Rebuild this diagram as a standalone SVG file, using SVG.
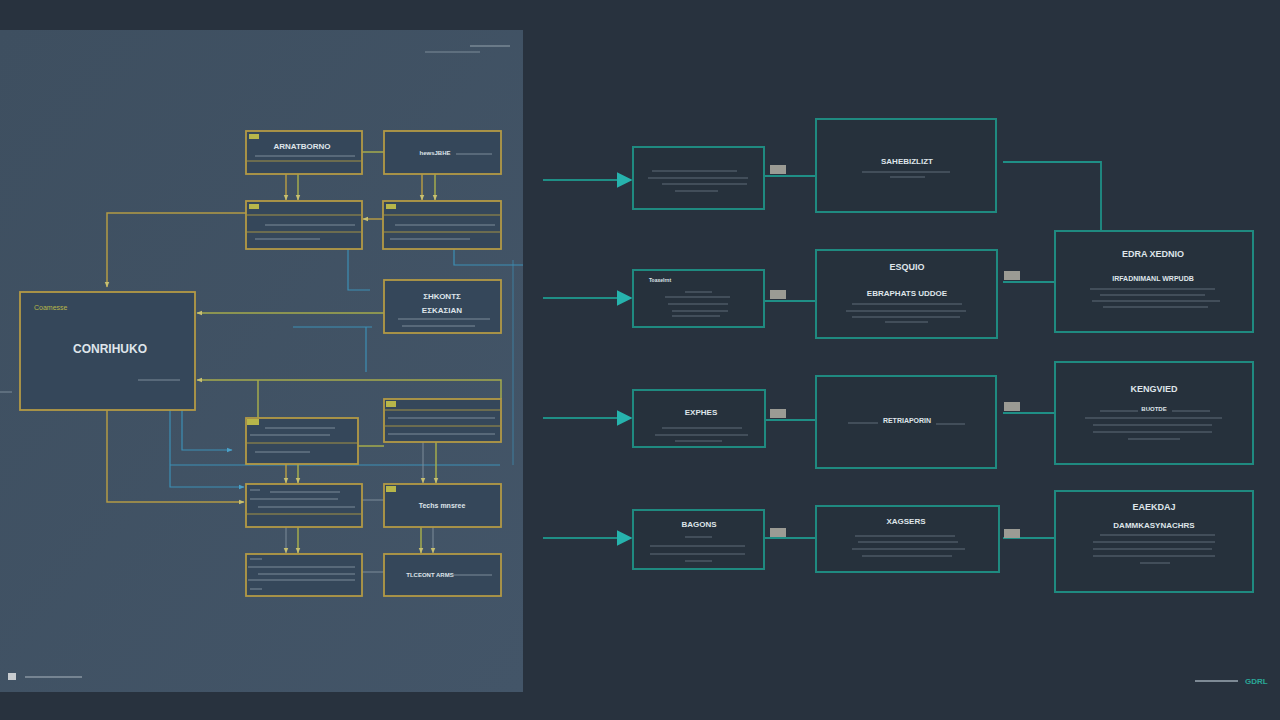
<svg xmlns="http://www.w3.org/2000/svg" width="1280" height="720" viewBox="0 0 1280 720">
<defs>
<linearGradient id="panel" x1="0" y1="0" x2="1" y2="1">
<stop offset="0" stop-color="#3e4f60"/>
<stop offset="1" stop-color="#435568"/>
</linearGradient>
<marker id="tri" viewBox="0 0 10 10" refX="9" refY="5" markerWidth="16" markerHeight="16" markerUnits="userSpaceOnUse" orient="auto">
<path d="M0,0 L10,5 L0,10 z" fill="#27b3ad"/>
</marker>
<marker id="sm" viewBox="0 0 10 10" refX="9" refY="5" markerWidth="6" markerHeight="6" markerUnits="userSpaceOnUse" orient="auto">
<path d="M0,1 L10,5 L0,9 z" fill="#c8c070"/>
</marker>
<marker id="smb" viewBox="0 0 10 10" refX="9" refY="5" markerWidth="6" markerHeight="6" markerUnits="userSpaceOnUse" orient="auto">
<path d="M0,1 L10,5 L0,9 z" fill="#4aa0c8"/>
</marker>
</defs>
<style>
.ln{fill:none;stroke:#b39a45;stroke-width:1.5}
.lg{fill:none;stroke:#a5ab4c;stroke-width:1.5}
.lb{fill:none;stroke:#3d8fb5;stroke-width:1.2}
.ob{fill:#35475a;stroke:#b39a45;stroke-width:1.8}
.sep{stroke:#a39244;stroke-width:1}
.fl{stroke:#7d8c99;stroke-width:1}
.tb{fill:#26313c;stroke:#1f8a80;stroke-width:2}
.tl{stroke:#1f8f86;stroke-width:1.8;fill:none}
.tag{fill:#9b9b94}
.fr{stroke:#5e6c78;stroke-width:1}
.t{font-family:"Liberation Sans",Arial,sans-serif;fill:#dfe5ea;font-weight:bold;text-anchor:middle}
.ty{font-family:"Liberation Sans",Arial,sans-serif;fill:#b7b64a;font-size:7px}
</style>
<rect width="1280" height="720" fill="#28323e"/>
<rect x="0" y="30" width="523" height="662" fill="url(#panel)"/>
<line x1="425" y1="52" x2="480" y2="52" class="fl"/>
<line x1="470" y1="46" x2="510" y2="46" stroke="#6a7a88" stroke-width="2"/>

<g id="connectors">
<!-- left side -->
<line x1="362" y1="152" x2="384" y2="152" class="lg"/>
<line x1="286" y1="174" x2="286" y2="200" class="ln" marker-end="url(#sm)"/>
<line x1="298" y1="174" x2="298" y2="200" class="lg" marker-end="url(#sm)"/>
<line x1="422" y1="174" x2="422" y2="200" class="ln" marker-end="url(#sm)"/>
<line x1="435" y1="174" x2="435" y2="200" class="lg" marker-end="url(#sm)"/>
<line x1="383" y1="219" x2="363" y2="219" class="ln" marker-end="url(#sm)"/>
<path d="M246,213 H107 V287" class="ln" marker-end="url(#sm)"/>
<line x1="384" y1="313" x2="197" y2="313" class="lg" marker-end="url(#sm)"/>
<path d="M501,399 V380 H197" class="lg" marker-end="url(#sm)"/>
<line x1="258" y1="380" x2="258" y2="418" class="lg"/>
<path d="M107,410 V502 H244" class="ln" marker-end="url(#sm)"/>
<path d="M348,249 V290 H370" class="lb"/>
<path d="M454,249 V265 H523" class="lb"/>
<path d="M293,327 H372" class="lb"/>
<line x1="366" y1="327" x2="366" y2="372" class="lb"/>
<path d="M182,410 V450 H232" class="lb" marker-end="url(#smb)"/>
<path d="M170,410 V487 H244" class="lb" marker-end="url(#smb)"/>
<line x1="170" y1="465" x2="500" y2="465" class="lb"/>
<line x1="513" y1="260" x2="513" y2="465" class="lb" opacity="0.6"/>
<line x1="358" y1="446" x2="384" y2="446" class="lg"/>
<line x1="286" y1="464" x2="286" y2="483" class="ln" marker-end="url(#sm)"/>
<line x1="298" y1="464" x2="298" y2="483" class="lg" marker-end="url(#sm)"/>
<line x1="423" y1="442" x2="423" y2="483" class="fl" marker-end="url(#sm)"/>
<line x1="436" y1="442" x2="436" y2="483" class="lg" marker-end="url(#sm)"/>
<line x1="362" y1="500" x2="384" y2="500" class="fl"/>
<line x1="286" y1="527" x2="286" y2="553" class="fl" marker-end="url(#sm)"/>
<line x1="298" y1="527" x2="298" y2="553" class="lg" marker-end="url(#sm)"/>
<line x1="421" y1="527" x2="421" y2="553" class="lg" marker-end="url(#sm)"/>
<line x1="433" y1="527" x2="433" y2="553" class="fl" marker-end="url(#sm)"/>
<line x1="362" y1="572" x2="384" y2="572" class="fl"/>
<line x1="0" y1="392" x2="12" y2="392" class="fl"/>
<!-- right side -->
<line x1="543" y1="180" x2="631" y2="180" class="tl" marker-end="url(#tri)"/>
<line x1="543" y1="298" x2="631" y2="298" class="tl" marker-end="url(#tri)"/>
<line x1="543" y1="418" x2="631" y2="418" class="tl" marker-end="url(#tri)"/>
<line x1="543" y1="538" x2="631" y2="538" class="tl" marker-end="url(#tri)"/>
<line x1="764" y1="176" x2="816" y2="176" class="tl" stroke-width="1.2"/>
<line x1="764" y1="301" x2="816" y2="301" class="tl" stroke-width="1.2"/>
<line x1="765" y1="420" x2="816" y2="420" class="tl" stroke-width="1.2"/>
<line x1="764" y1="538" x2="816" y2="538" class="tl" stroke-width="1.2"/>
<path d="M1003,162 H1101 V231" class="tl" stroke-width="1.5"/>
<line x1="1003" y1="282" x2="1055" y2="282" class="tl" stroke-width="1.2"/>
<line x1="1003" y1="413" x2="1055" y2="413" class="tl" stroke-width="1.2"/>
<line x1="1003" y1="538" x2="1055" y2="538" class="tl" stroke-width="1.2"/>
<rect x="770" y="165" width="16" height="9" class="tag"/>
<rect x="770" y="290" width="16" height="9" class="tag"/>
<rect x="770" y="409" width="16" height="9" class="tag"/>
<rect x="770" y="528" width="16" height="9" class="tag"/>
<rect x="1004" y="271" width="16" height="9" class="tag"/>
<rect x="1004" y="402" width="16" height="9" class="tag"/>
<rect x="1004" y="529" width="16" height="9" class="tag"/>
</g>

<g id="nA"><rect x="246" y="131" width="116" height="43" class="ob"/><rect x="249" y="134" width="10" height="5" fill="#b7b64a"/><text x="302" y="149" class="t" font-size="8">ARNATBORNO</text><line x1="255" y1="156" x2="355" y2="156" class="fl"/><line x1="246" y1="161" x2="362" y2="161" class="sep"/></g>
<g id="nB"><rect x="384" y="131" width="117" height="43" class="ob"/><text x="435" y="155" class="t" font-size="6">hewsJBHE</text><line x1="456" y1="154" x2="492" y2="154" class="fl"/></g>
<g id="nC"><rect x="246" y="201" width="116" height="48" class="ob"/><rect x="249" y="204" width="10" height="5" fill="#b7b64a"/><line x1="246" y1="215" x2="362" y2="215" class="sep"/><line x1="265" y1="225" x2="355" y2="225" class="fl"/><line x1="246" y1="232" x2="362" y2="232" class="sep"/><line x1="255" y1="239" x2="320" y2="239" class="fl"/></g>
<g id="nD"><rect x="383" y="201" width="118" height="48" class="ob"/><rect x="386" y="204" width="10" height="5" fill="#b7b64a"/><line x1="383" y1="215" x2="501" y2="215" class="sep"/><line x1="395" y1="225" x2="495" y2="225" class="fl"/><line x1="383" y1="232" x2="501" y2="232" class="sep"/><line x1="390" y1="239" x2="470" y2="239" class="fl"/></g>
<g id="nE"><rect x="384" y="280" width="117" height="53" class="ob"/><text x="442" y="299" class="t" font-size="8">ΣΗΚΟΝΤΣ</text><text x="442" y="313" class="t" font-size="8">ΕΣΚΑΣΙΑΝ</text><line x1="398" y1="319" x2="490" y2="319" class="fl"/><line x1="402" y1="326" x2="475" y2="326" class="fl"/></g>
<g id="nF"><rect x="20" y="292" width="175" height="118" class="ob"/><text x="34" y="310" class="ty">Coamesse</text><text x="110" y="353" class="t" font-size="12">CONRIHUKO</text><line x1="138" y1="380" x2="180" y2="380" class="fl"/></g>
<g id="nG"><rect x="246" y="418" width="112" height="46" class="ob"/><rect x="247" y="419" width="12" height="6" fill="#b7b64a"/><line x1="265" y1="428" x2="335" y2="428" class="fl"/><line x1="250" y1="435" x2="330" y2="435" class="fl"/><line x1="246" y1="443" x2="358" y2="443" class="sep"/><line x1="255" y1="452" x2="310" y2="452" class="fl"/></g>
<g id="nH"><rect x="384" y="399" width="117" height="43" class="ob"/><rect x="386" y="401" width="10" height="6" fill="#b7b64a"/><line x1="384" y1="410" x2="501" y2="410" class="sep"/><line x1="388" y1="418" x2="495" y2="418" class="fl"/><line x1="384" y1="426" x2="501" y2="426" class="sep"/><line x1="388" y1="434" x2="495" y2="434" class="fl"/></g>
<g id="nI"><rect x="246" y="484" width="116" height="43" class="ob"/><line x1="250" y1="490" x2="260" y2="490" class="fl"/><line x1="270" y1="492" x2="340" y2="492" class="fl"/><line x1="250" y1="499" x2="338" y2="499" class="fl"/><line x1="258" y1="507" x2="355" y2="507" class="fl"/><line x1="246" y1="514" x2="362" y2="514" class="sep"/></g>
<g id="nJ"><rect x="384" y="484" width="117" height="43" class="ob"/><rect x="386" y="486" width="10" height="6" fill="#b7b64a"/><text x="442" y="508" class="t" font-size="7">Techs mnsree</text></g>
<g id="nK"><rect x="246" y="554" width="116" height="42" class="ob"/><line x1="250" y1="559" x2="262" y2="559" class="fl"/><line x1="248" y1="567" x2="355" y2="567" class="fl"/><line x1="258" y1="574" x2="355" y2="574" class="fl"/><line x1="248" y1="580" x2="355" y2="580" class="fl"/><line x1="250" y1="589" x2="262" y2="589" class="fl"/></g>
<g id="nL"><rect x="384" y="554" width="117" height="42" class="ob"/><text x="430" y="577" class="t" font-size="6">TLCEONT ARMS</text><line x1="452" y1="575" x2="492" y2="575" class="fl"/></g>

<rect x="8" y="673" width="8" height="7" fill="#c8ccd0"/>
<line x1="25" y1="677" x2="82" y2="677" stroke="#8896a2" stroke-width="1.5"/>

<g id="r1"><rect x="633" y="147" width="131" height="62" class="tb"/><line x1="652" y1="171" x2="737" y2="171" class="fr"/><line x1="648" y1="178" x2="748" y2="178" class="fr"/><line x1="662" y1="184" x2="747" y2="184" class="fr"/><line x1="675" y1="191" x2="718" y2="191" class="fr"/></g>
<g id="r2"><rect x="633" y="270" width="131" height="57" class="tb"/><text x="660" y="282" class="t" font-size="5" font-weight="normal">Toaxelrnt</text><line x1="685" y1="292" x2="712" y2="292" class="fr"/><line x1="665" y1="297" x2="730" y2="297" class="fr"/><line x1="668" y1="304" x2="728" y2="304" class="fr"/><line x1="672" y1="311" x2="728" y2="311" class="fr"/><line x1="672" y1="316" x2="720" y2="316" class="fr"/></g>
<g id="r3"><rect x="633" y="390" width="132" height="57" class="tb"/><text x="701" y="415" class="t" font-size="8">EXPHES</text><line x1="662" y1="428" x2="742" y2="428" class="fr"/><line x1="655" y1="435" x2="748" y2="435" class="fr"/><line x1="675" y1="441" x2="722" y2="441" class="fr"/></g>
<g id="r4"><rect x="633" y="510" width="131" height="59" class="tb"/><text x="699" y="527" class="t" font-size="8">BAGONS</text><line x1="685" y1="537" x2="712" y2="537" class="fr"/><line x1="650" y1="546" x2="745" y2="546" class="fr"/><line x1="650" y1="554" x2="745" y2="554" class="fr"/><line x1="685" y1="561" x2="712" y2="561" class="fr"/></g>

<g id="s1"><rect x="816" y="119" width="180" height="93" class="tb"/><text x="907" y="164" class="t" font-size="8">SAHEBIZLIZT</text><line x1="862" y1="172" x2="950" y2="172" class="fr"/><line x1="890" y1="177" x2="925" y2="177" class="fr"/></g>
<g id="s2"><rect x="816" y="250" width="181" height="88" class="tb"/><text x="907" y="270" class="t" font-size="9">ESQUIO</text><text x="907" y="296" class="t" font-size="8">EBRAPHATS UDDOE</text><line x1="852" y1="304" x2="962" y2="304" class="fr"/><line x1="846" y1="311" x2="966" y2="311" class="fr"/><line x1="852" y1="317" x2="960" y2="317" class="fr"/><line x1="885" y1="322" x2="928" y2="322" class="fr"/></g>
<g id="s3"><rect x="816" y="376" width="180" height="92" class="tb"/><text x="907" y="423" class="t" font-size="7">RETRIAPORIN</text><line x1="848" y1="423" x2="878" y2="423" class="fr"/><line x1="936" y1="424" x2="965" y2="424" class="fr"/></g>
<g id="s4"><rect x="816" y="506" width="183" height="66" class="tb"/><text x="906" y="524" class="t" font-size="8">XAGSERS</text><line x1="855" y1="536" x2="955" y2="536" class="fr"/><line x1="858" y1="542" x2="958" y2="542" class="fr"/><line x1="852" y1="549" x2="965" y2="549" class="fr"/><line x1="862" y1="556" x2="952" y2="556" class="fr"/></g>

<g id="t1"><rect x="1055" y="231" width="198" height="101" class="tb"/><text x="1153" y="257" class="t" font-size="9">EDRA XEDNIO</text><text x="1153" y="281" class="t" font-size="7">IRFADNIMANL WRPUDB</text><line x1="1090" y1="289" x2="1215" y2="289" class="fr"/><line x1="1100" y1="295" x2="1205" y2="295" class="fr"/><line x1="1092" y1="301" x2="1220" y2="301" class="fr"/><line x1="1103" y1="307" x2="1208" y2="307" class="fr"/></g>
<g id="t2"><rect x="1055" y="362" width="198" height="102" class="tb"/><text x="1154" y="392" class="t" font-size="9">KENGVIED</text><text x="1154" y="411" class="t" font-size="6">BUOTDE</text><line x1="1100" y1="411" x2="1138" y2="411" class="fr"/><line x1="1172" y1="411" x2="1210" y2="411" class="fr"/><line x1="1085" y1="418" x2="1222" y2="418" class="fr"/><line x1="1093" y1="425" x2="1212" y2="425" class="fr"/><line x1="1093" y1="432" x2="1212" y2="432" class="fr"/><line x1="1128" y1="439" x2="1180" y2="439" class="fr"/></g>
<g id="t3"><rect x="1055" y="491" width="198" height="101" class="tb"/><text x="1154" y="510" class="t" font-size="9">EAEKDAJ</text><text x="1154" y="528" class="t" font-size="8">DAMMKASYNACHRS</text><line x1="1100" y1="535" x2="1215" y2="535" class="fr"/><line x1="1093" y1="542" x2="1215" y2="542" class="fr"/><line x1="1093" y1="549" x2="1212" y2="549" class="fr"/><line x1="1093" y1="556" x2="1215" y2="556" class="fr"/><line x1="1140" y1="563" x2="1170" y2="563" class="fr"/></g>

<line x1="1195" y1="681" x2="1238" y2="681" stroke="#7e8a95" stroke-width="2"/>
<text x="1245" y="684" font-family="Liberation Sans,Arial,sans-serif" font-size="8" font-weight="bold" fill="#2aa898">GDRL</text>
</svg>
